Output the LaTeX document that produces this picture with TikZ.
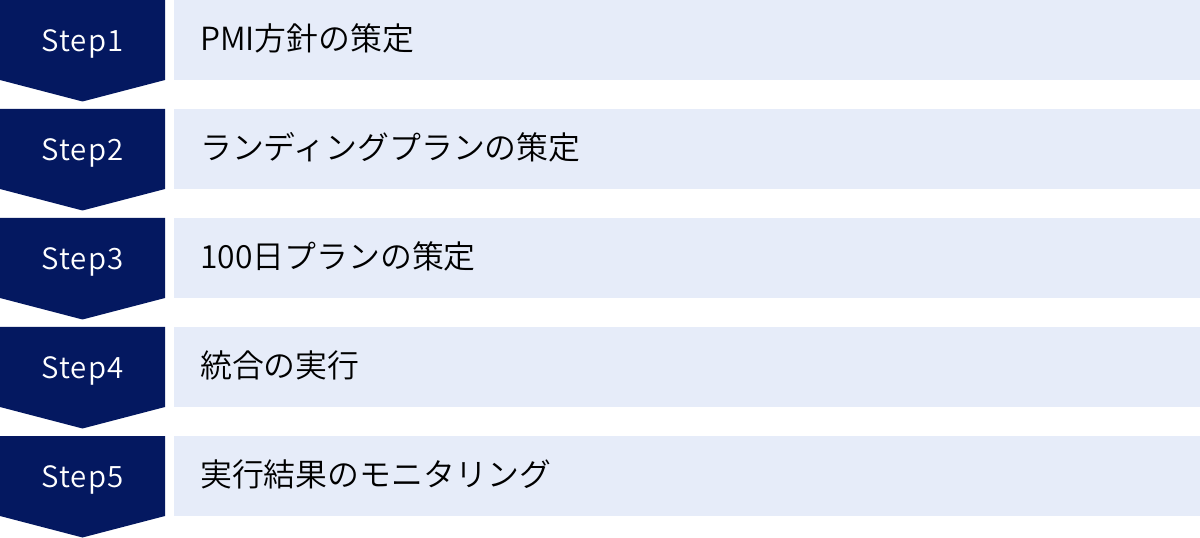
\documentclass[tikz,border=0pt]{standalone}
\usepackage{fontspec}
\setmainfont{Noto Sans CJK JP}[UprightFont=* DemiLight]
\newfontfamily\stepfont{Noto Sans CJK JP}[UprightFont=* DemiLight, LetterSpace=4]
\definecolor{navy}{RGB}{4,24,96}
\definecolor{pale}{RGB}{230,236,249}
\tikzset{
  chev/.style={fill=navy, draw=none},
  panel/.style={fill=pale, draw=none},
  steplabel/.style={text=white, font=\stepfont\fontsize{29.5}{34}\selectfont, inner sep=0pt, anchor=base},
  bodytext/.style={text=black, font=\fontsize{32}{38}\selectfont, inner sep=0pt, anchor=base west},
}
\begin{document}
\begin{tikzpicture}[x=1bp,y=-1bp]
\useasboundingbox (0,0) rectangle (1200,538);
\foreach \i/\lab/\txt in {1/Step1/PMI方針の策定, 2/Step2/ランディングプランの策定, 3/Step3/100日プランの策定, 4/Step4/統合の実行, 5/Step5/実行結果のモニタリング}{
  \pgfmathsetmacro{\t}{(\i-1)*109}
  \path[chev] (0,\t) -- (165,\t) -- (165,\t+80) -- (82.5,\t+101.5) -- (0,\t+80) -- cycle;
  \path[panel] (174,\t) rectangle (1200,\t+80);
  \node[steplabel] (s\i) at (82.5,\t+51.7) {\lab};
  \node[bodytext] (b\i) at (200,\t+50.5) {\txt};
}
\end{tikzpicture}
\end{document}
